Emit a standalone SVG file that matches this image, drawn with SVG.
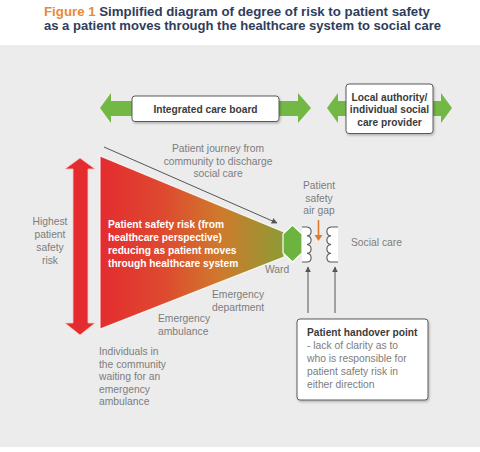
<svg xmlns="http://www.w3.org/2000/svg" width="480" height="452" viewBox="0 0 480 452">
<defs>
<linearGradient id="risk" x1="100" y1="0" x2="285" y2="0" gradientUnits="userSpaceOnUse">
<stop offset="0" stop-color="#e42c30"/>
<stop offset="0.35" stop-color="#de4a2f"/>
<stop offset="0.65" stop-color="#cf7a2c"/>
<stop offset="1" stop-color="#8c9c35"/>
</linearGradient>
<marker id="arr" viewBox="0 0 10 10" refX="9" refY="5" markerWidth="6" markerHeight="6" orient="auto">
<path d="M0,0 L10,5 L0,10 Z" fill="#555"/>
</marker>
<filter id="sh" x="-10%" y="-10%" width="120%" height="130%">
<feDropShadow dx="1" dy="1.5" stdDeviation="1.2" flood-color="#000" flood-opacity="0.25"/>
</filter>
</defs>
<style>
.t{font-family:"Liberation Sans",Arial,sans-serif;}
.g{font-family:"Liberation Sans",Arial,sans-serif;font-size:10.3px;fill:#7d7d7d;}
.w{font-family:"Liberation Sans",Arial,sans-serif;font-size:10.2px;font-weight:bold;fill:#ffffff;}
.b{font-family:"Liberation Sans",Arial,sans-serif;font-size:10.2px;font-weight:bold;fill:#3b3b3b;}
.box{fill:#ffffff;stroke:#5a5a5a;stroke-width:1;}
.green{fill:#73b844;}
.ln{stroke:#555;stroke-width:1;fill:none;}
</style>
<rect x="0" y="0" width="480" height="452" fill="#ffffff"/>
<rect x="0" y="45" width="480" height="402" fill="#ececec"/>

<g id="title" class="t" font-weight="bold" font-size="12.5">
<text x="44" y="16" textLength="386" lengthAdjust="spacingAndGlyphs"><tspan fill="#e8893b">Figure 1</tspan><tspan fill="#2f3d5c"> Simplified diagram of degree of risk to patient safety</tspan></text>
<text x="44" y="30" fill="#2f3d5c" textLength="397" lengthAdjust="spacingAndGlyphs">as a patient moves through the healthcare system to social care</text>
</g>

<g id="integrated-care-board">
<polygon class="green" points="100,108 111,93 111,101 298,101 298,93 311,108 298,123 298,116 111,116 111,123"/>
<rect class="box" x="132" y="96" width="147" height="25.5" rx="3" filter="url(#sh)"/>
<text class="b" x="205.5" y="112.5" text-anchor="middle" font-weight="bold" fill="#3b3b3b">Integrated care board</text>
</g>

<g id="local-authority">
<polygon class="green" points="327,108 338,93 338,101 441,101 441,93 452,108 441,123 441,116 338,116 338,123"/>
<rect class="box" x="346" y="84" width="87" height="49.5" rx="3" filter="url(#sh)"/>
<text class="b" x="389.5" y="100.5" text-anchor="middle">Local authority/</text>
<text class="b" x="389.5" y="113" text-anchor="middle">individual social</text>
<text class="b" x="389.5" y="125.5" text-anchor="middle">care provider</text>
</g>

<g id="risk-axis">
<polygon points="80,158 95,169 88,169 88,323 95,323 80,335 65,323 73,323 73,169 65,169" fill="#e42c30" stroke="#f6c9c4" stroke-width="0.8"/>
<text class="g" x="50" y="225" text-anchor="middle">Highest</text>
<text class="g" x="50" y="238" text-anchor="middle">patient</text>
<text class="g" x="50" y="251" text-anchor="middle">safety</text>
<text class="g" x="50" y="263.5" text-anchor="middle">risk</text>
</g>

<g id="risk-triangle">
<polygon points="100,156 284,232 284,257 100,329" fill="url(#risk)" stroke="#ffffff" stroke-width="1.2" stroke-opacity="0.8"/>
<text class="w" x="108" y="228">Patient safety risk (from</text>
<text class="w" x="108" y="241">healthcare perspective)</text>
<text class="w" x="108" y="254">reducing as patient moves</text>
<text class="w" x="108" y="267">through healthcare system</text>
</g>

<g id="ward">
<polygon points="292.5,225 302,234 302,253 292.5,262 283,253 283,234" fill="#6cb33f" stroke="#ffffff" stroke-width="1.2"/>
<text class="g" x="277" y="273" text-anchor="middle">Ward</text>
</g>

<g id="air-gap">
<path d="M302,227 H307 a4.6,4.4 0 0 1 0,8.75 a4.6,4.4 0 0 1 0,8.75 a4.6,4.4 0 0 1 0,8.75 a4.6,4.4 0 0 1 0,8.75 H302 Z" fill="#ffffff"/>
<path d="M302,227 H307 a4.6,4.4 0 0 1 0,8.75 a4.6,4.4 0 0 1 0,8.75 a4.6,4.4 0 0 1 0,8.75 a4.6,4.4 0 0 1 0,8.75 H302" fill="none" stroke="#5a5a5a" stroke-width="1.1"/>
<path d="M338,227 H331 a4.6,4.4 0 0 0 0,8.75 a4.6,4.4 0 0 0 0,8.75 a4.6,4.4 0 0 0 0,8.75 a4.6,4.4 0 0 0 0,8.75 H338 Z" fill="#ffffff"/>
<path d="M338,227 H331 a4.6,4.4 0 0 0 0,8.75 a4.6,4.4 0 0 0 0,8.75 a4.6,4.4 0 0 0 0,8.75 a4.6,4.4 0 0 0 0,8.75 H338" fill="none" stroke="#5a5a5a" stroke-width="1.1"/>
<line x1="318.5" y1="220" x2="318.5" y2="236" stroke="#e07a2b" stroke-width="1.6"/>
<polygon points="314.5,235 322.5,235 318.5,241" fill="#e07a2b"/>
<text class="g" x="319" y="189" text-anchor="middle">Patient</text>
<text class="g" x="319" y="201.5" text-anchor="middle">safety</text>
<text class="g" x="319" y="214" text-anchor="middle">air gap</text>
<text class="g" x="351" y="246">Social care</text>
</g>

<g id="stage-labels">
<text class="g" x="218" y="152" text-anchor="middle">Patient journey from</text>
<text class="g" x="218" y="164.5" text-anchor="middle">community to discharge</text>
<text class="g" x="218" y="177" text-anchor="middle">social care</text>
<text class="g" x="212" y="298">Emergency</text>
<text class="g" x="212" y="310.5">department</text>
<text class="g" x="158" y="322">Emergency</text>
<text class="g" x="158" y="334.5">ambulance</text>
<text class="g" x="99" y="355">Individuals in</text>
<text class="g" x="99" y="367.5">the community</text>
<text class="g" x="99" y="380">waiting for an</text>
<text class="g" x="99" y="392.5">emergency</text>
<text class="g" x="99" y="405">ambulance</text>
</g>

<g id="handover-point">
<rect class="box" x="297" y="319" width="131" height="81" rx="3" filter="url(#sh)"/>
<text class="b" x="307" y="336">Patient handover point</text>
<text class="g" x="307" y="349">- lack of clarity as to</text>
<text class="g" x="307" y="362">who is responsible for</text>
<text class="g" x="307" y="375">patient safety risk in</text>
<text class="g" x="307" y="388">either direction</text>
</g>

<g id="connectors">
<line class="ln" x1="104" y1="147" x2="277" y2="223" marker-end="url(#arr)"/>
<line class="ln" x1="308" y1="313" x2="308" y2="267" marker-end="url(#arr)"/>
<line class="ln" x1="335" y1="313" x2="335" y2="267" marker-end="url(#arr)"/>
</g>
</svg>
